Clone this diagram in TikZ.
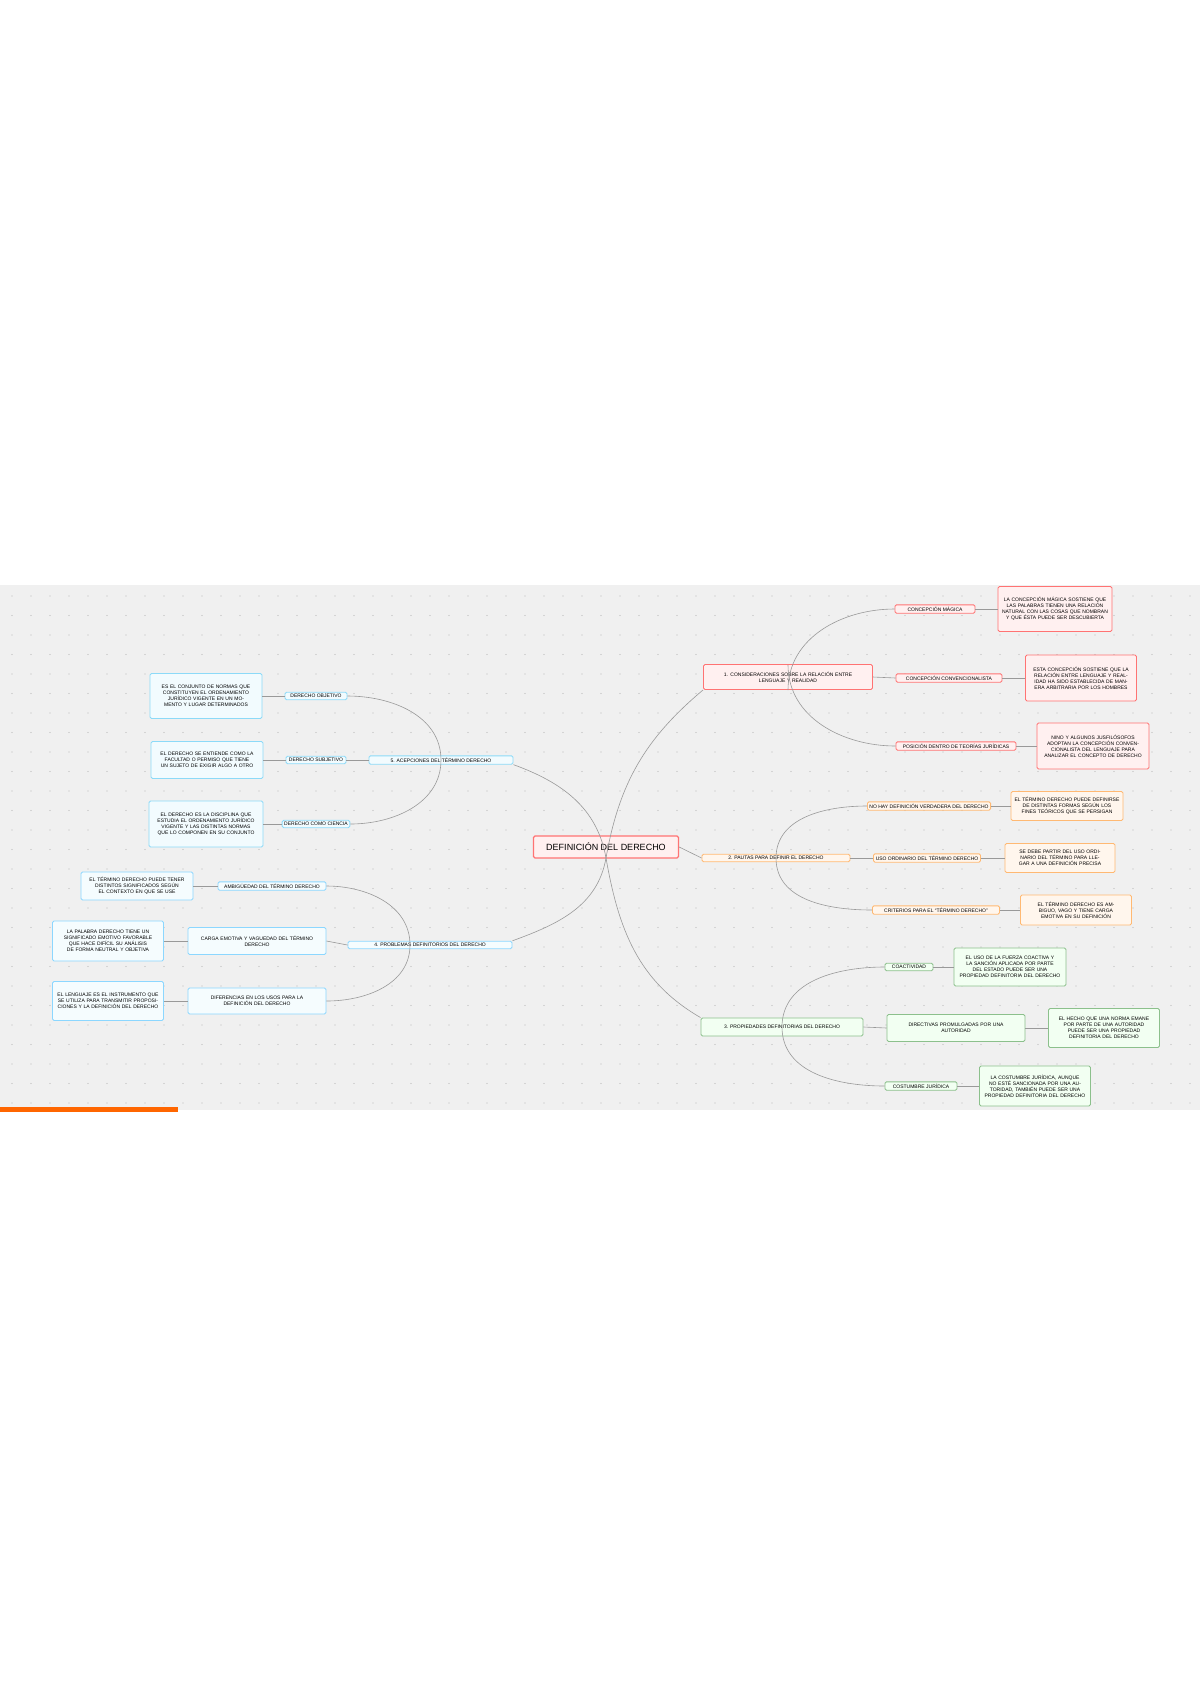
\documentclass[tikz,border=0pt]{standalone}
\usepackage{fontspec}
\setmainfont{Liberation Sans}
\begin{document}
\begin{tikzpicture}[x=1pt,y=-1pt,
 base/.style={draw,line width=0.9pt,rounded corners=1.5pt,align=center,inner sep=2pt,font=\fontsize{5}{6}\selectfont},
 red/.style={base,draw=red!55!white,fill=red!6},
 org/.style={base,draw=orange!55!white,fill=orange!7},
 grn/.style={base,draw=green!45!black!45!white,fill=green!5},
 cyn/.style={base,draw=cyan!45!white,fill=cyan!5},
 blu/.style={base,draw=blue!35!cyan!45!white,fill=cyan!4},
 ln/.style={draw=gray!80,line width=0.6pt}]
\useasboundingbox (0,0) rectangle (1200,1698);
\fill[white] (0,0) rectangle (1200,1698);
\fill[gray!12] (0,585) rectangle (1200,1110);
\foreach \i in {0,...,62}{\foreach \j in {0,...,26}{\fill[gray!55] (12+19*\i,596+19.5*\j) circle (0.7);}}
\fill[orange!80!red] (0,1107) rectangle (178,1112);
% center
\node[red,line width=1.3pt,font=\fontsize{9}{11}\selectfont,minimum width=145pt,minimum height=22pt] (c) at (606,847) {DEFINICIÓN DEL DERECHO};
% branch 1
\node[red,text width=165pt,minimum height=25pt] (b1) at (788,677) {1. CONSIDERACIONES SOBRE LA RELACIÓN ENTRE\\LENGUAJE Y REALIDAD};
\node[red,minimum width=80pt] (b11) at (935,609) {CONCEPCIÓN MÁGICA};
\node[red,text width=110pt,minimum height=45pt] (l11) at (1055,609) {LA CONCEPCIÓN MÁGICA SOSTIENE QUE LAS PALABRAS TIENEN UNA RELACIÓN NATURAL CON LAS COSAS QUE NOMBRAN Y QUE ÉSTA PUEDE SER DESCUBIERTA};
\node[red,minimum width=106pt] (b12) at (949,678) {CONCEPCIÓN CONVENCIONALISTA};
\node[red,text width=107pt,minimum height=46pt] (l12) at (1081,678) {ESTA CONCEPCIÓN SOSTIENE QUE LA RELACIÓN ENTRE LENGUAJE Y REALIDAD HA SIDO ESTABLECIDA DE MANERA ARBITRARIA POR LOS HOMBRES};
\node[red,minimum width=120pt] (b13) at (956,746) {POSICIÓN DENTRO DE TEORÍAS JURÍDICAS};
\node[red,text width=108pt,minimum height=46pt] (l13) at (1093,746) {NINO Y ALGUNOS JUSFILÓSOFOS ADOPTAN LA CONCEPCIÓN CONVENCIONALISTA DEL LENGUAJE PARA ANALIZAR EL CONCEPTO DE DERECHO};
% branch 2
\node[org,minimum width=148pt] (b2) at (776,858) {2. PAUTAS PARA DEFINIR EL DERECHO};
\node[org,minimum width=112pt] (b21) at (929,806) {NO HAY DEFINICIÓN VERDADERA DEL DERECHO};
\node[org,text width=108pt,minimum height=29pt] (l21) at (1067,806) {EL TÉRMINO DERECHO PUEDE DEFINIRSE DE DISTINTAS FORMAS SEGÚN LOS FINES TEÓRICOS QUE SE PERSIGAN};
\node[org,minimum width=107pt] (b22) at (927,858) {USO ORDINARIO DEL TÉRMINO DERECHO};
\node[org,text width=106pt,minimum height=29pt] (l22) at (1060,858) {SE DEBE PARTIR DEL USO ORDINARIO DEL TÉRMINO PARA LLEGAR A UNA DEFINICIÓN PRECISA};
\node[org,minimum width=127pt] (b23) at (936,910) {CRITERIOS PARA EL ``TÉRMINO DERECHO''};
\node[org,text width=107pt,minimum height=30pt] (l23) at (1076,910) {EL TÉRMINO DERECHO ES AMBIGUO, VAGO Y TIENE CARGA EMOTIVA EN SU DEFINICIÓN};
% branch 3
\node[grn,minimum width=162pt,minimum height=18pt] (b3) at (782,1027) {3. PROPIEDADES DEFINITORIAS DEL DERECHO};
\node[grn,minimum width=48pt] (b31) at (909,967) {COACTIVIDAD};
\node[grn,text width=108pt,minimum height=38pt] (l31) at (1010,967) {EL USO DE LA FUERZA COACTIVA Y LA SANCIÓN APLICADA POR PARTE DEL ESTADO PUEDE SER UNA PROPIEDAD DEFINITORIA DEL DERECHO};
\node[grn,text width=134pt,minimum height=27pt] (b32) at (956,1028) {DIRECTIVAS PROMULGADAS POR UNA\\AUTORIDAD};
\node[grn,text width=107pt,minimum height=39pt] (l32) at (1104,1028) {EL HECHO QUE UNA NORMA EMANE POR PARTE DE UNA AUTORIDAD PUEDE SER UNA PROPIEDAD DEFINITORIA DEL DERECHO};
\node[grn,minimum width=72pt] (b33) at (921,1086) {COSTUMBRE JURÍDICA};
\node[grn,text width=107pt,minimum height=40pt] (l33) at (1035,1086) {LA COSTUMBRE JURÍDICA, AUNQUE NO ESTÉ SANCIONADA POR UNA AUTORIDAD, TAMBIÉN PUEDE SER UNA PROPIEDAD DEFINITORIA DEL DERECHO};
% left branch A
\node[cyn,minimum width=144pt] (ba) at (441,760) {5. ACEPCIONES DEL TÉRMINO DERECHO};
\node[cyn,minimum width=62pt] (ba1) at (316,696) {DERECHO OBJETIVO};
\node[cyn,text width=108pt,minimum height=45pt] (la1) at (206,696) {ES EL CONJUNTO DE NORMAS QUE CONSTITUYEN EL ORDENAMIENTO JURÍDICO VIGENTE EN UN MOMENTO Y LUGAR DETERMINADOS};
\node[cyn,minimum width=60pt] (ba2) at (316,760) {DERECHO SUBJETIVO};
\node[cyn,text width=108pt,minimum height=37pt] (la2) at (207,760) {EL DERECHO SE ENTIENDE COMO LA FACULTAD O PERMISO QUE TIENE UN SUJETO DE EXIGIR ALGO A OTRO};
\node[cyn,minimum width=61pt] (ba3) at (316,824) {DERECHO COMO CIENCIA};
\node[cyn,text width=110pt,minimum height=46pt] (la3) at (206,824) {EL DERECHO ES LA DISCIPLINA QUE ESTUDIA EL ORDENAMIENTO JURÍDICO VIGENTE Y LAS DISTINTAS NORMAS QUE LO COMPONEN EN SU CONJUNTO};
% left branch 4
\node[blu,minimum width=164pt] (bb) at (430,945) {4. PROBLEMAS DEFINITORIOS DEL DERECHO};
\node[blu,minimum width=108pt] (bb1) at (272,886) {AMBIGÜEDAD DEL TÉRMINO DERECHO};
\node[blu,text width=108pt,minimum height=28pt] (lb1) at (137,886) {EL TÉRMINO DERECHO PUEDE TENER DISTINTOS SIGNIFICADOS SEGÚN EL CONTEXTO EN QUE SE USE};
\node[blu,text width=134pt,minimum height=27pt] (bb2) at (257,941) {CARGA EMOTIVA Y VAGUEDAD DEL TÉRMINO\\DERECHO};
\node[blu,text width=107pt,minimum height=40pt] (lb2) at (108,941) {LA PALABRA DERECHO TIENE UN SIGNIFICADO EMOTIVO FAVORABLE QUE HACE DIFÍCIL SU ANÁLISIS DE FORMA NEUTRAL Y OBJETIVA};
\node[blu,text width=134pt,minimum height=26pt] (bb3) at (257,1001) {DIFERENCIAS EN LOS USOS PARA LA\\DEFINICIÓN DEL DERECHO};
\node[blu,text width=107pt,minimum height=39pt] (lb3) at (108,1001) {EL LENGUAJE ES EL INSTRUMENTO QUE SE UTILIZA PARA TRANSMITIR PROPOSICIONES Y LA DEFINICIÓN DEL DERECHO};
% connectors
\coordinate (cc) at (606,858);
\draw[ln] (cc) to[out=80,in=220] (b1.south west);
\draw[ln] (c.east) -- (b2.west);
\draw[ln] (cc) to[out=-80,in=150] (b3.north west);
\draw[ln] (cc) to[out=100,in=-20] (ba.south east);
\draw[ln] (cc) to[out=-100,in=20] (bb.north east);
\draw[ln] (788,690) to[out=90,in=180] (b11.west);
\draw[ln] (b1.east) -- (b12.west);
\draw[ln] (788,665) to[out=-90,in=180] (b13.west);
\draw[ln] (776,858) to[out=90,in=180] (b21.west);
\draw[ln] (b2.east) -- (b22.west);
\draw[ln] (776,858) to[out=-90,in=180] (b23.west);
\draw[ln] (782,1027) to[out=90,in=180] (b31.west);
\draw[ln] (b3.east) -- (b32.west);
\draw[ln] (782,1027) to[out=-90,in=180] (b33.west);
\draw[ln] (441,760) to[out=90,in=0] (ba1.east);
\draw[ln] (ba.west) -- (ba2.east);
\draw[ln] (441,760) to[out=-90,in=0] (ba3.east);
\draw[ln] (410,945) to[out=90,in=0] (bb1.east);
\draw[ln] (bb.west) -- (bb2.east);
\draw[ln] (410,945) to[out=-90,in=0] (bb3.east);
\draw[ln] (b11) -- (l11); \draw[ln] (b12) -- (l12); \draw[ln] (b13) -- (l13);
\draw[ln] (b21) -- (l21); \draw[ln] (b22) -- (l22); \draw[ln] (b23) -- (l23);
\draw[ln] (b31) -- (l31); \draw[ln] (b32) -- (l32); \draw[ln] (b33) -- (l33);
\draw[ln] (ba1) -- (la1); \draw[ln] (ba2) -- (la2); \draw[ln] (ba3) -- (la3);
\draw[ln] (bb1) -- (lb1); \draw[ln] (bb2) -- (lb2); \draw[ln] (bb3) -- (lb3);
\end{tikzpicture}
\end{document}
